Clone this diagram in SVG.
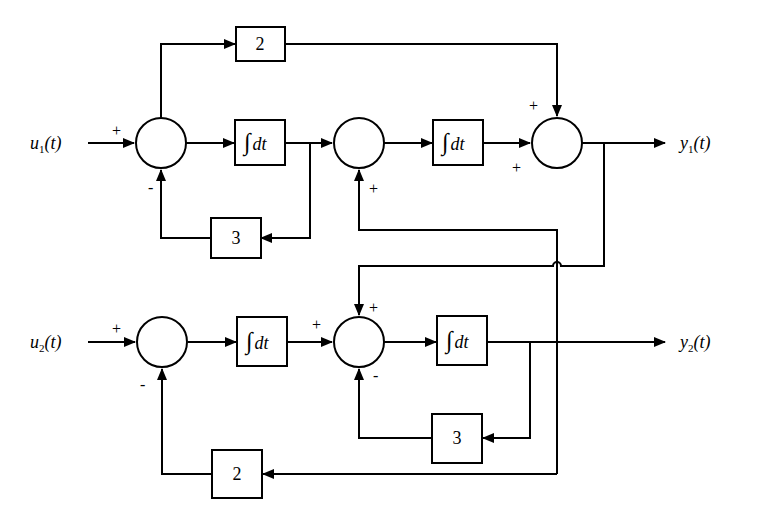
<svg xmlns="http://www.w3.org/2000/svg" width="775" height="507" viewBox="0 0 775 507">
<style>
text{fill:#000;font-family:"Liberation Serif","Times New Roman","DejaVu Serif",serif}
.l{fill:none;stroke:#000;stroke-width:2}
.b{fill:#fff;stroke:#000;stroke-width:2}
.t{font-size:18px}
.i{font-size:18px;font-style:italic}
.s{font-size:16px}
</style>
<defs><marker id="a" markerWidth="12" markerHeight="10" refX="11" refY="5" orient="auto" markerUnits="userSpaceOnUse"><path d="M0,0L12,5L0,10z" fill="#000"/></marker></defs>
<rect width="775" height="507" fill="#fff"/>
<g id="connectors">
<path class="l" d="M88,143H134" marker-end="url(#a)"/>
<path class="l" d="M161,118V44H235" marker-end="url(#a)"/>
<path class="l" d="M285,44H557V116" marker-end="url(#a)"/>
<path class="l" d="M186,143H234" marker-end="url(#a)"/>
<path class="l" d="M285,143H332" marker-end="url(#a)"/>
<path class="l" d="M310,143V238H261" marker-end="url(#a)"/>
<path class="l" d="M211,238H161V170" marker-end="url(#a)"/>
<path class="l" d="M384,143H432" marker-end="url(#a)"/>
<path class="l" d="M483,143H530" marker-end="url(#a)"/>
<path class="l" d="M582,143H665" marker-end="url(#a)"/>
<path class="l" d="M557,474V230H359V170" marker-end="url(#a)"/>
<path class="l" d="M557,474H263" marker-end="url(#a)"/>
<path class="l" d="M212,474H162V369" marker-end="url(#a)"/>
<path class="l" d="M604,143V266H561A4,4 0 0 0 553,266H359V315" marker-end="url(#a)"/>
<path class="l" d="M88,342H135" marker-end="url(#a)"/>
<path class="l" d="M188,342H236" marker-end="url(#a)"/>
<path class="l" d="M287,342H332" marker-end="url(#a)"/>
<path class="l" d="M384,342H436" marker-end="url(#a)"/>
<path class="l" d="M487,342H665" marker-end="url(#a)"/>
<path class="l" d="M530,342V438H483" marker-end="url(#a)"/>
<path class="l" d="M432,438H359V369" marker-end="url(#a)"/>
</g>
<g id="S1"><circle class="b" cx="161" cy="143" r="25"/></g>
<g id="I1"><rect class="b" x="235" y="120" width="50" height="45"/><text class="i" x="244" y="150"><tspan font-size="24" font-style="normal">∫</tspan><tspan dx="2">dt</tspan></text></g>
<g id="K2a"><rect class="b" x="236" y="27" width="49" height="34"/><text class="t" x="260" y="50" text-anchor="middle">2</text></g>
<g id="K3a"><rect class="b" x="211" y="218" width="50" height="40"/><text class="t" x="236" y="244" text-anchor="middle">3</text></g>
<g id="S2"><circle class="b" cx="359" cy="143" r="25"/></g>
<g id="I2"><rect class="b" x="433" y="120" width="50" height="45"/><text class="i" x="442" y="150"><tspan font-size="24" font-style="normal">∫</tspan><tspan dx="2">dt</tspan></text></g>
<g id="S3"><circle class="b" cx="557" cy="143" r="25"/></g>
<g id="S5"><circle class="b" cx="162" cy="342" r="25"/></g>
<g id="I3"><rect class="b" x="237" y="317" width="50" height="49"/><text class="i" x="246" y="349"><tspan font-size="24" font-style="normal">∫</tspan><tspan dx="2">dt</tspan></text></g>
<g id="S4"><circle class="b" cx="359" cy="342" r="25"/></g>
<g id="I4"><rect class="b" x="437" y="316" width="50" height="49"/><text class="i" x="446" y="348"><tspan font-size="24" font-style="normal">∫</tspan><tspan dx="2">dt</tspan></text></g>
<g id="K3b"><rect class="b" x="432" y="414" width="50" height="49"/><text class="t" x="457" y="444" text-anchor="middle">3</text></g>
<g id="K2b"><rect class="b" x="212" y="450" width="50" height="48"/><text class="t" x="237" y="480" text-anchor="middle">2</text></g>
<g id="labels">
<text class="i" x="30" y="149">u<tspan font-size="11" font-style="normal" dy="4">1</tspan><tspan dy="-4">(t)</tspan></text>
<text class="i" x="30" y="348">u<tspan font-size="11" font-style="normal" dy="4">2</tspan><tspan dy="-4">(t)</tspan></text>
<text class="i" x="680" y="149">y<tspan font-size="11" font-style="normal" dy="4">1</tspan><tspan dy="-4">(t)</tspan></text>
<text class="i" x="680" y="348">y<tspan font-size="11" font-style="normal" dy="4">2</tspan><tspan dy="-4">(t)</tspan></text>
<text class="s" x="112" y="136">+</text>
<text class="s" x="148" y="193">-</text>
<text class="s" x="369" y="194">+</text>
<text class="s" x="529" y="111">+</text>
<text class="s" x="512" y="173">+</text>
<text class="s" x="369" y="313">+</text>
<text class="s" x="312" y="330">+</text>
<text class="s" x="373" y="381">-</text>
<text class="s" x="112" y="334">+</text>
<text class="s" x="140" y="390">-</text>
</g>
</svg>
